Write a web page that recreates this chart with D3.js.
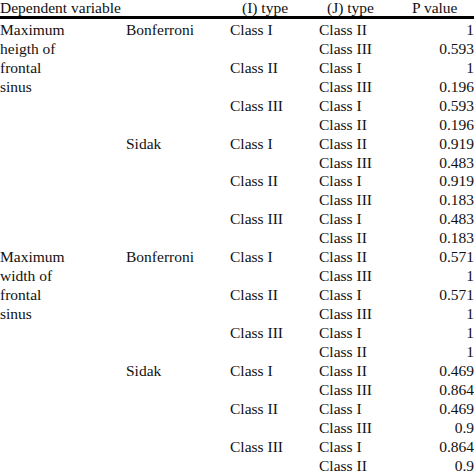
<!DOCTYPE html><html><head><meta charset="utf-8"><script src="https://cdn.jsdelivr.net/npm/d3@7"></script>
<style>body{margin:0;background:#fff}</style></head><body><svg id="c" width="474" height="476"></svg>
<script>
const headers=["Dependent variable","(I) type","(J) type","P value"];
const depVars=[["Maximum","heigth of","frontal","sinus"],["Maximum","width of","frontal","sinus"]];
const methods=["Bonferroni","Sidak"];
const classes=["Class I","Class II","Class III"];
const pValues=["1","0.593","1","0.196","0.593","0.196","0.919","0.483","0.919","0.183","0.483","0.183",
"0.571","1","0.571","1","1","1","0.469","0.864","0.469","0.9","0.864","0.9"];
const svg=d3.select("#c"),font="Liberation Serif, Times New Roman, serif",fs=15.5;
const y=d3.scaleLinear().domain([0,23]).range([35,470.5]);
function t(x,yy,s,anchor){svg.append("text").attr("x",x).attr("y",yy).attr("font-family",font).attr("font-size",fs).attr("fill","#111").attr("text-anchor",anchor||"start").text(s);}
t(0,13,headers[0]);t(242,13,headers[1]);t(327,13,headers[2]);t(412,13,headers[3]);
svg.append("rect").attr("x",0).attr("y",16).attr("width",474).attr("height",3).attr("fill","#000");
let r=0;
depVars.forEach((dv,di)=>{
  dv.forEach((w,k)=>t(0,y(di*12+k),w));
  methods.forEach((m,mi)=>{
    t(126,y(di*12+mi*6),m);
    classes.forEach((ci,i)=>{
      t(230,y(di*12+mi*6+i*2),ci);
      classes.filter(c=>c!==ci).forEach((cj,j)=>{
        t(319,y(r),cj);t(474,y(r),pValues[r],"end");r++;
      });
    });
  });
});
</script></body></html>
